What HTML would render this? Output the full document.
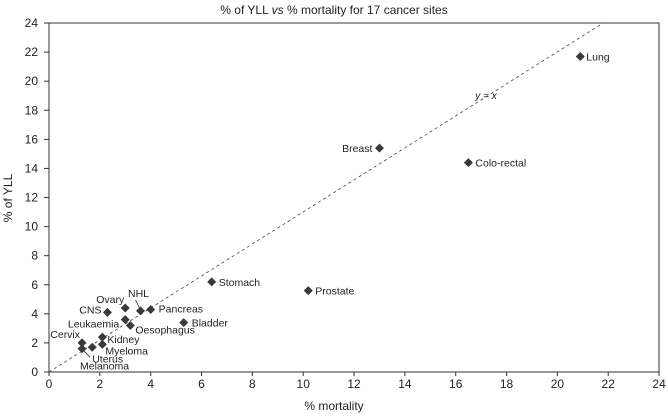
<!DOCTYPE html>
<html><head><meta charset="utf-8"><style>
body{margin:0;background:#fff;width:668px;height:414px;overflow:hidden;font-family:"Liberation Sans",sans-serif}
svg text{font-family:"Liberation Sans",sans-serif;fill:#222}
</style></head><body>
<svg id="chart" width="668" height="414">
<text x="334" y="14" text-anchor="middle" font-size="12">% of YLL <tspan font-style="italic">vs</tspan> % mortality for 17 cancer sites</text>
<rect x="49" y="23" width="610" height="349" fill="none" stroke="#333" stroke-width="1"/>
<g id="axes"></g>
<g id="marks"></g>
<text x="334" y="410" text-anchor="middle" font-size="12">% mortality</text>
<text x="0" y="0" transform="translate(12,198) rotate(-90)" text-anchor="middle" font-size="12">% of  YLL</text>
</svg>
<script>
const sites=["Lung","Breast","Colo-rectal","Stomach","Prostate","Bladder","Pancreas","NHL","Ovary","CNS","Leukaemia","Oesophagus","Kidney","Myeloma","Cervix","Uterus","Melanoma"];
const mortality=[20.9,13.0,16.5,6.4,10.2,5.3,4.0,3.6,3.0,2.3,3.0,3.2,2.1,2.1,1.3,1.7,1.3];
const yll=[21.7,15.4,14.4,6.2,5.6,3.4,4.3,4.2,4.4,4.1,3.6,3.2,2.4,1.9,2.0,1.7,1.6];
const xTicks=[0,2,4,6,8,10,12,14,16,18,20,22,24];
const yTicks=[0,2,4,6,8,10,12,14,16,18,20,22,24];
const NS="http://www.w3.org/2000/svg";
const X=v=>49+v*25.42, Y=v=>372-v*14.54;
// label offsets [dx,dy,anchor]
const lab={"Lung":[6,4,"start"],"Breast":[-7,4,"end"],"Colo-rectal":[7,4,"start"],"Stomach":[7,4,"start"],"Prostate":[7,4,"start"],"Bladder":[8,4,"start"],"Pancreas":[8,3,"start"],"NHL":[-2,-14,"middle"],"Ovary":[-1,-5,"end"],"CNS":[-6,1,"end"],"Leukaemia":[-6,8,"end"],"Oesophagus":[5,8,"start"],"Kidney":[5,6,"start"],"Myeloma":[3,10,"start"],"Cervix":[-2,-5,"end"],"Uterus":[0,15,"start"],"Melanoma":[-2,21,"start"]};
// leader lines [dx1,dy1,dx2,dy2] relative to point
const leaders={"NHL":[-1,-3,-5,-11],"Kidney":[0,3,1,6],"Uterus":[-9,3,-2,10]};
const ax=document.getElementById('axes'), mk=document.getElementById('marks');
function el(t,a,p){const e=document.createElementNS(NS,t);for(const k in a)e.setAttribute(k,a[k]);p.appendChild(e);return e;}
xTicks.forEach(v=>{const t=el('text',{x:X(v),y:388,'text-anchor':'middle','font-size':12},ax);t.textContent=v;


el('line',{x1:X(v),x2:X(v),y1:372,y2:376,stroke:'#333'},ax);});
yTicks.forEach(v=>{const t=el('text',{x:38,y:Y(v)+4,'text-anchor':'end','font-size':12},ax);t.textContent=v;


el('line',{x1:44,x2:49,y1:Y(v),y2:Y(v),stroke:'#333'},ax);});
const ref=el('line',{x1:X(0),y1:Y(0),x2:X(21.8),y2:Y(24),stroke:'#444','stroke-dasharray':'3,3','stroke-width':0.8},mk);


const rl=el('text',{x:486,y:99,'font-size':10,'font-style':'italic','text-anchor':'middle'},mk);rl.textContent='y = x';


sites.forEach((s,i)=>{const cx=X(mortality[i]),cy=Y(yll[i]);
const p=el('path',{d:`M${cx} ${cy-4.5}L${cx+4.5} ${cy}L${cx} ${cy+4.5}L${cx-4.5} ${cy}Z`,fill:'#3a3a3a'},mk);


if(leaders[s]){const L=leaders[s];const l=el('line',{x1:cx+L[0],y1:cy+L[1],x2:cx+L[2],y2:cy+L[3],stroke:'#333','stroke-width':0.8},mk);

}
const o=lab[s];const t=el('text',{x:cx+o[0],y:cy+o[1],'text-anchor':o[2],'font-size':10.5},mk);t.textContent=s;

});
</script>
</body></html>
